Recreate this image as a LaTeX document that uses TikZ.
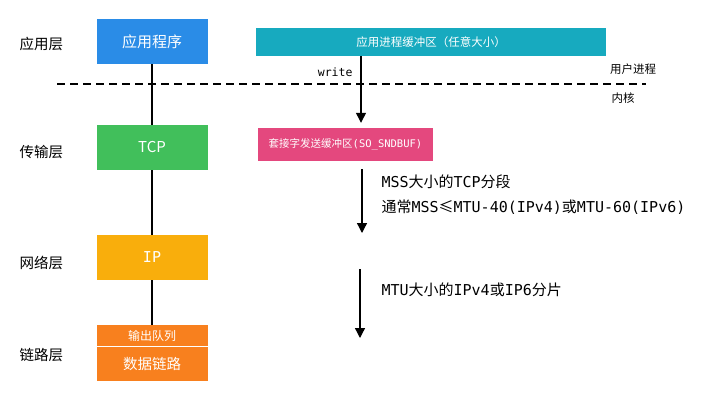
\documentclass[tikz,border=0pt]{standalone}
\usepackage{fontspec}
\setmainfont{Noto Sans CJK SC}
\setmonofont{DejaVu Sans Mono}
\usetikzlibrary{arrows.meta}

\definecolor{appblue}{HTML}{2A8CE7}
\definecolor{tcpgreen}{HTML}{41BF5B}
\definecolor{ipyellow}{HTML}{F9AE0C}
\definecolor{linkorange}{HTML}{F8801E}
\definecolor{bufteal}{HTML}{17AABF}
\definecolor{sndpink}{HTML}{E4487E}

\begin{document}
\begin{tikzpicture}[x=1pt, y=-1pt,
		box/.style={minimum width=111pt, inner sep=0pt, text=white},
		layer/.style={anchor=west, font=\fontsize{14.5}{16}\selectfont},
		link/.style={line width=2.2pt},
		flow/.style={line width=1.3pt, -{Triangle[width=10pt, length=10pt]}},
		note/.style={anchor=west, font=\fontsize{15}{17}\selectfont}]
		\useasboundingbox (0,0) rectangle (709,401);

		\node[layer] (l4) at (16, 44) {应用层};
		\node[layer] (l3) at (16, 152) {传输层};
		\node[layer] (l2) at (16, 263) {网络层};
		\node[layer] (l1) at (16, 355) {链路层};

		\node[box, fill=appblue, minimum height=45pt, font=\fontsize{15}{17}\selectfont] (app) at (152, 41.5) {应用程序};
		\node[box, fill=tcpgreen, minimum height=45pt, font=\fontsize{15}{17}\selectfont] (tcp) at (152, 147.5) {TCP};
		\node[box, fill=ipyellow, minimum height=45pt, font=\ttfamily\fontsize{15}{17}\selectfont] (ip) at (152, 257.5) {IP};
		\node[box, fill=linkorange, minimum height=21pt, font=\fontsize{12}{14}\selectfont] (queue) at (152, 335.5) {输出队列};
		\node[box, fill=linkorange, minimum height=34pt, font=\fontsize{14.5}{16}\selectfont] (dlink) at (152, 364) {数据链路};
		\draw[white, line width=0.8pt] (queue.south west) -- (queue.south east);

		\draw[link] (app) -- (tcp);
		\draw[link] (tcp) -- (ip);
		\draw[link] (ip) -- (queue);

		\draw[line width=1.4pt, dash pattern=on 8pt off 5pt] (57, 84) -- (646, 84);

		\node[box, fill=bufteal, minimum width=350pt, minimum height=28pt, font=\fontsize{11.5}{13}\selectfont] (buffer) at (431, 42) {应用进程缓冲区（任意大小）};
		\node[box, fill=sndpink, minimum width=175pt, minimum height=33pt, font=\fontsize{10.5}{12}\selectfont] (sndbuf) at (345.5, 144.5) {套接字发送缓冲区{\ttfamily(SO\_SNDBUF)}};

		\node[font=\ttfamily\fontsize{11.5}{13}\selectfont, anchor=east] (write) at (356, 72) {write};
		\node[font=\fontsize{11.5}{13}\selectfont] (user) at (633, 69) {用户进程};
		\node[font=\fontsize{11.5}{13}\selectfont] (kernel) at (623, 98) {内核};

		\coordinate (wx) at (361, 0);
		\coordinate (s1) at (362, 169);
		\coordinate (e1) at (362, 233);
		\coordinate (s2) at (360, 269);
		\coordinate (e2) at (360, 338);

		\draw[flow] (buffer.south -| wx) -- ([yshift=5pt]sndbuf.north -| wx);
		\draw[flow] (s1) -- (e1);
		\draw[flow] (s2) -- (e2);

		\node[note] (mss) at (378, 182) {{\ttfamily MSS}大小的{\ttfamily TCP}分段};
		\node[note] (mtu) at (378, 207) {通常{\ttfamily MSS}≤{\ttfamily MTU-40(IPv4)}或{\ttfamily MTU-60(IPv6)}};
		\node[note] (frag) at (378, 290) {{\ttfamily MTU}大小的{\ttfamily IPv4}或{\ttfamily IP6}分片};
	\end{tikzpicture}
\end{document}
